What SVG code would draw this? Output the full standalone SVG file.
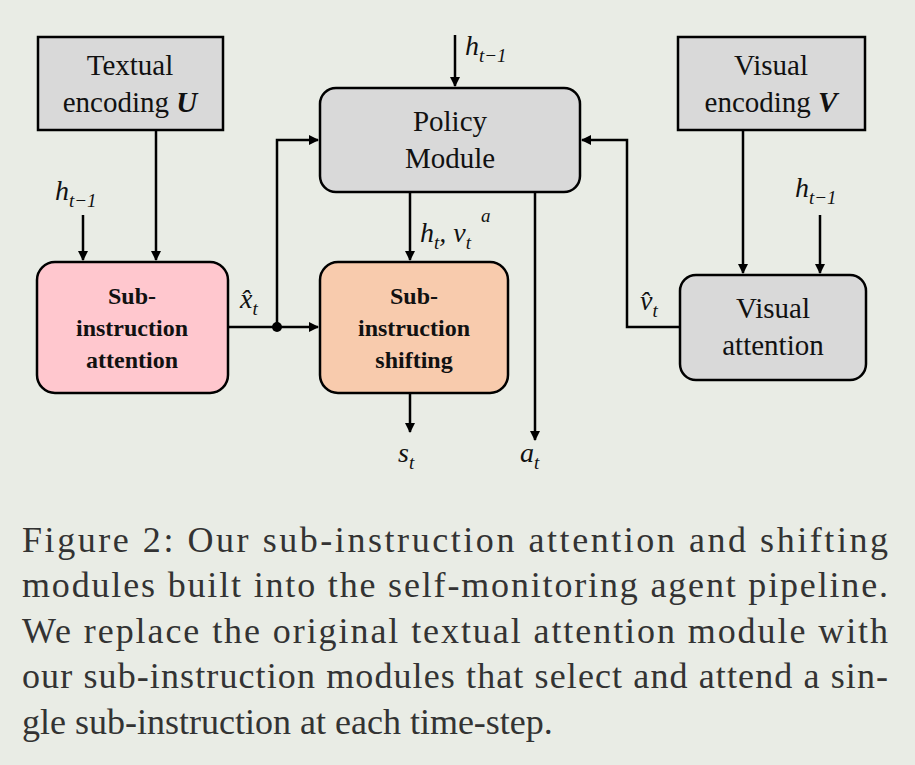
<svg xmlns="http://www.w3.org/2000/svg" width="915" height="765" viewBox="0 0 915 765">
<style>
.b{stroke:#000;stroke-width:2.5}
.c{fill:none;stroke:#000;stroke-width:2.5}
.t{font-family:"Liberation Serif","Times New Roman","Nimbus Roman",serif;font-size:29px;fill:#111;text-anchor:middle}
.bt{font-family:"Liberation Serif","Times New Roman","Nimbus Roman",serif;font-size:24px;font-weight:bold;fill:#111;text-anchor:middle}
.m{font-family:"Liberation Serif","Times New Roman","Nimbus Roman",serif;font-size:28px;font-style:italic;fill:#111}
.s{font-size:19px}
.cap{font-family:"Liberation Serif","Times New Roman","Nimbus Roman",serif;font-size:36px;fill:#333}
</style>
<defs><marker id="a" markerWidth="10" markerHeight="10" refX="9" refY="5" orient="auto" markerUnits="userSpaceOnUse" viewBox="0 0 10 10"><path d="M0,0L10,5L0,10z"/></marker></defs>
<rect width="915" height="765" fill="#e9ece5"/>
<g id="textual"><rect class="b" x="38" y="37" width="185" height="93" fill="#d9d9d9"/><text class="t" x="130" y="75">Textual</text><text class="t" x="130" y="112">encoding <tspan font-weight="bold" font-style="italic">U</tspan></text></g>
<g id="visual"><rect class="b" x="678" y="37" width="187" height="93" fill="#d9d9d9"/><text class="t" x="771" y="75">Visual</text><text class="t" x="771" y="112">encoding <tspan font-weight="bold" font-style="italic">V</tspan></text></g>
<g id="policy"><rect class="b" x="320" y="88" width="260" height="104" rx="16" fill="#d9d9d9"/><text class="t" x="450" y="131">Policy</text><text class="t" x="450" y="168">Module</text></g>
<g id="subatt"><rect class="b" x="37" y="262" width="191" height="131" rx="18" fill="#ffc7ce"/><text class="bt" x="132" y="304">Sub-</text><text class="bt" x="132" y="336">instruction</text><text class="bt" x="132" y="368">attention</text></g>
<g id="subshift"><rect class="b" x="320" y="262" width="188" height="131" rx="18" fill="#f8cbad"/><text class="bt" x="414" y="304">Sub-</text><text class="bt" x="414" y="336">instruction</text><text class="bt" x="414" y="368">shifting</text></g>
<g id="visatt"><rect class="b" x="680" y="275" width="186" height="105" rx="16" fill="#d9d9d9"/><text class="t" x="773" y="318">Visual</text><text class="t" x="773" y="355">attention</text></g>
<g id="connectors">
<path class="c" d="M455,35V86" marker-end="url(#a)"/>
<path class="c" d="M156,130V260" marker-end="url(#a)"/>
<path class="c" d="M83,215V260" marker-end="url(#a)"/>
<path class="c" d="M228,327H318" marker-end="url(#a)"/>
<circle cx="277" cy="327" r="5"/>
<path class="c" d="M277,327V140H318" marker-end="url(#a)"/>
<path class="c" d="M410,192V260" marker-end="url(#a)"/>
<path class="c" d="M410,393V432" marker-end="url(#a)"/>
<path class="c" d="M535,192V440" marker-end="url(#a)"/>
<path class="c" d="M743,130V273" marker-end="url(#a)"/>
<path class="c" d="M820,215V273" marker-end="url(#a)"/>
<path class="c" d="M680,327H627V140H582" marker-end="url(#a)"/>
</g>
<g id="labels">
<text class="m" x="465" y="55">h<tspan class="s" dy="7">t−1</tspan></text>
<text class="m" x="55" y="200">h<tspan class="s" dy="7">t−1</tspan></text>
<text class="m" x="795" y="197">h<tspan class="s" dy="7">t−1</tspan></text>
<text class="m" x="240" y="308">x̂<tspan class="s" dy="7">t</tspan></text>
<text class="m" x="640" y="310">v̂<tspan class="s" dy="7">t</tspan></text>
<text class="m" x="420" y="242">h<tspan class="s" dy="7">t</tspan><tspan dy="-7">, v</tspan><tspan class="s" dy="7">t</tspan></text>
<text class="m s" x="481" y="222">a</text>
<text class="m" x="398" y="462">s<tspan class="s" dy="7">t</tspan></text>
<text class="m" x="520" y="462">a<tspan class="s" dy="7">t</tspan></text>
</g>
<g id="caption">
<text class="cap" x="22" y="552" textLength="866" lengthAdjust="spacing">Figure 2:  Our sub-instruction attention and shifting</text>
<text class="cap" x="22" y="597" textLength="866" lengthAdjust="spacing">modules built into the self-monitoring agent pipeline.</text>
<text class="cap" x="22" y="643" textLength="866" lengthAdjust="spacing">We replace the original textual attention module with</text>
<text class="cap" x="22" y="688" textLength="866" lengthAdjust="spacing">our sub-instruction modules that select and attend a sin-</text>
<text class="cap" x="22" y="734">gle sub-instruction at each time-step.</text>
</g>
</svg>
